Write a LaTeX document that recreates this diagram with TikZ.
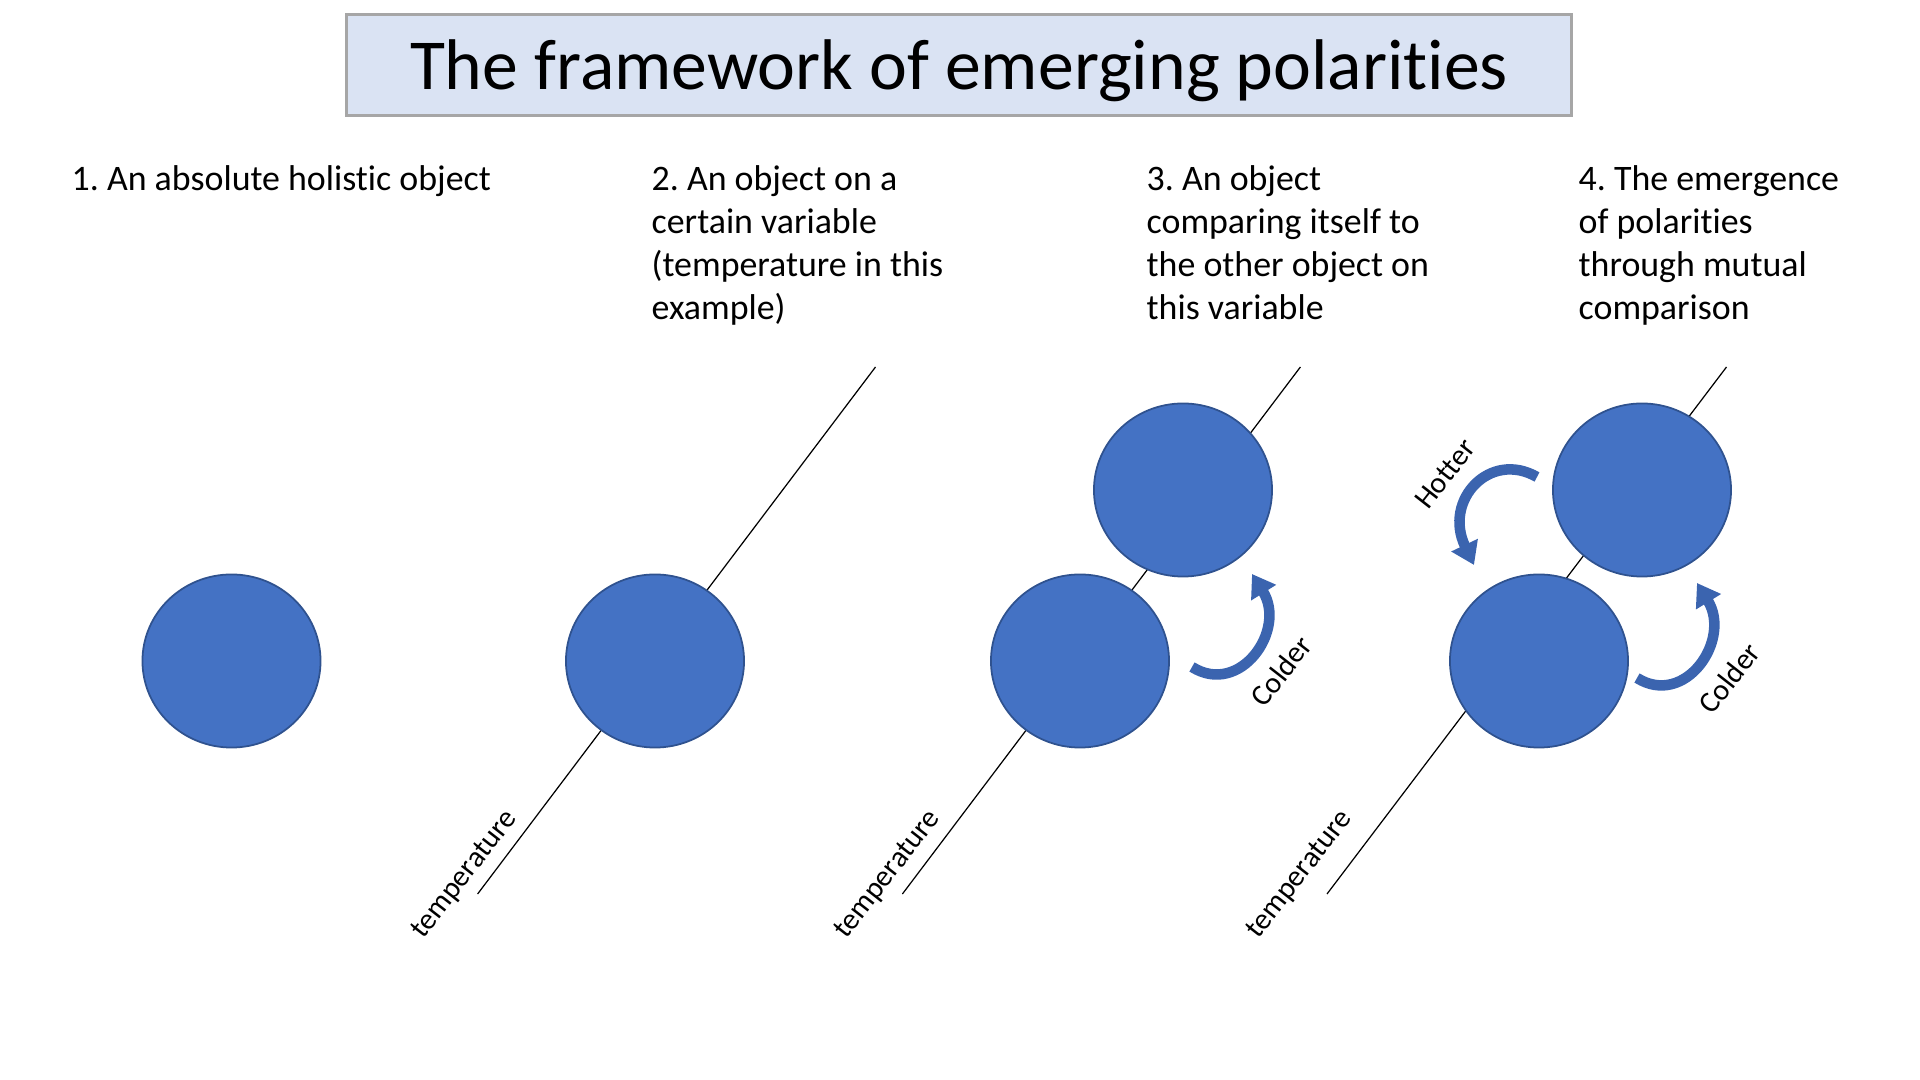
\documentclass[tikz,border=0pt]{standalone}
\usepackage{fontspec}
\setmainfont{Carlito}[Ligatures=NoCommon]
\usetikzlibrary{arrows.meta, shapes.geometric}
\definecolor{objblue}{HTML}{4472C4}
\definecolor{objedge}{HTML}{2F528F}
\definecolor{arrowblue}{HTML}{3B64AF}
\definecolor{titlefill}{HTML}{DAE3F3}
\definecolor{titleedge}{HTML}{A6A6A6}
\frenchspacing

\begin{document}
\begin{tikzpicture}[
      x=0.01cm, y=-0.01cm,
      heading/.style={anchor=north west, inner sep=0pt, align=left, font=\fontsize{10.2}{12.2}\selectfont},
      obj/.style={ellipse, draw=objedge, line width=0.5pt, fill=objblue, minimum width=1.78cm, minimum height=1.73cm, inner sep=0pt},
      axisline/.style={draw=black, line width=0.35pt},
      varlabel/.style={rotate=52, inner sep=0pt, font=\fontsize{8.5}{10}\selectfont},
      cmp/.style={draw=arrowblue, line width=3pt, -{Triangle[length=0.22cm, width=0.28cm]}},
    ]
    \useasboundingbox (0,0) rectangle (1920,1080);

    \node[draw=titleedge, line width=0.8pt, fill=titlefill, minimum width=12.25cm, minimum height=1.01cm, inner sep=0pt,
          text depth=0pt, font=\fontsize{20.4}{24}\selectfont] (title) at (959,65) {The framework of emerging polarities};

    \node[heading] (h1) at (71,165) {1. An absolute holistic object};
    \node[heading] (h2) at (651,165) {2. An object on a\\certain variable\\(temperature in this\\example)};
    \node[heading] (h3) at (1146,165) {3. An object\\comparing itself to\\the other object on\\this variable};
    \node[heading] (h4) at (1578,165) {4. The emergence\\of polarities\\through mutual\\comparison};

    % temperature axes
    \coordinate (lo2) at (477.6,894);  \coordinate (hi2) at (875.5,367);
    \coordinate (lo3) at (902.4,894);  \coordinate (hi3) at (1300.4,367);
    \coordinate (lo4) at (1327,894);   \coordinate (hi4) at (1726.5,367);
    \draw[axisline] (lo2) -- (hi2);
    \draw[axisline] (lo3) -- (hi3);
    \draw[axisline] (lo4) -- (hi4);
    \node[varlabel] (t2) at (465,875) {temperature};
    \node[varlabel] (t3) at (888,875) {temperature};
    \node[varlabel] (t4) at (1300,875) {temperature};

    % objects
    \node[obj] (c1) at (231.5,661) {};
    \node[obj] (c2) at (655,661) {};
    \node[obj] (c3a) at (1080,661) {};
    \node[obj] (c3b) at (1183,490) {};
    \node[obj] (c4a) at (1539,661) {};
    \node[obj] (c4b) at (1642,490) {};

    % comparisons
    \coordinate (cold3s) at (1192,667);  \coordinate (cold3e) at (1252,574);
    \coordinate (cold4s) at (1637,678);  \coordinate (cold4e) at (1697,583);
    \coordinate (hot4s) at (1537,477);   \coordinate (hot4e) at (1474,565);
    \draw[cmp] (cold3s) .. controls (1240,697) and (1287,630) .. (cold3e);
    \draw[cmp] (cold4s) .. controls (1685,708) and (1732,640) .. (cold4e);
    \draw[cmp] (hot4s) .. controls (1490,450) and (1443,500) .. (hot4e);
    \node[varlabel] (lc3) at (1281,671) {Colder};
    \node[varlabel] (lc4) at (1729,678) {Colder};
    \node[varlabel] (lh4) at (1445,474) {Hotter};
  \end{tikzpicture}
\end{document}
